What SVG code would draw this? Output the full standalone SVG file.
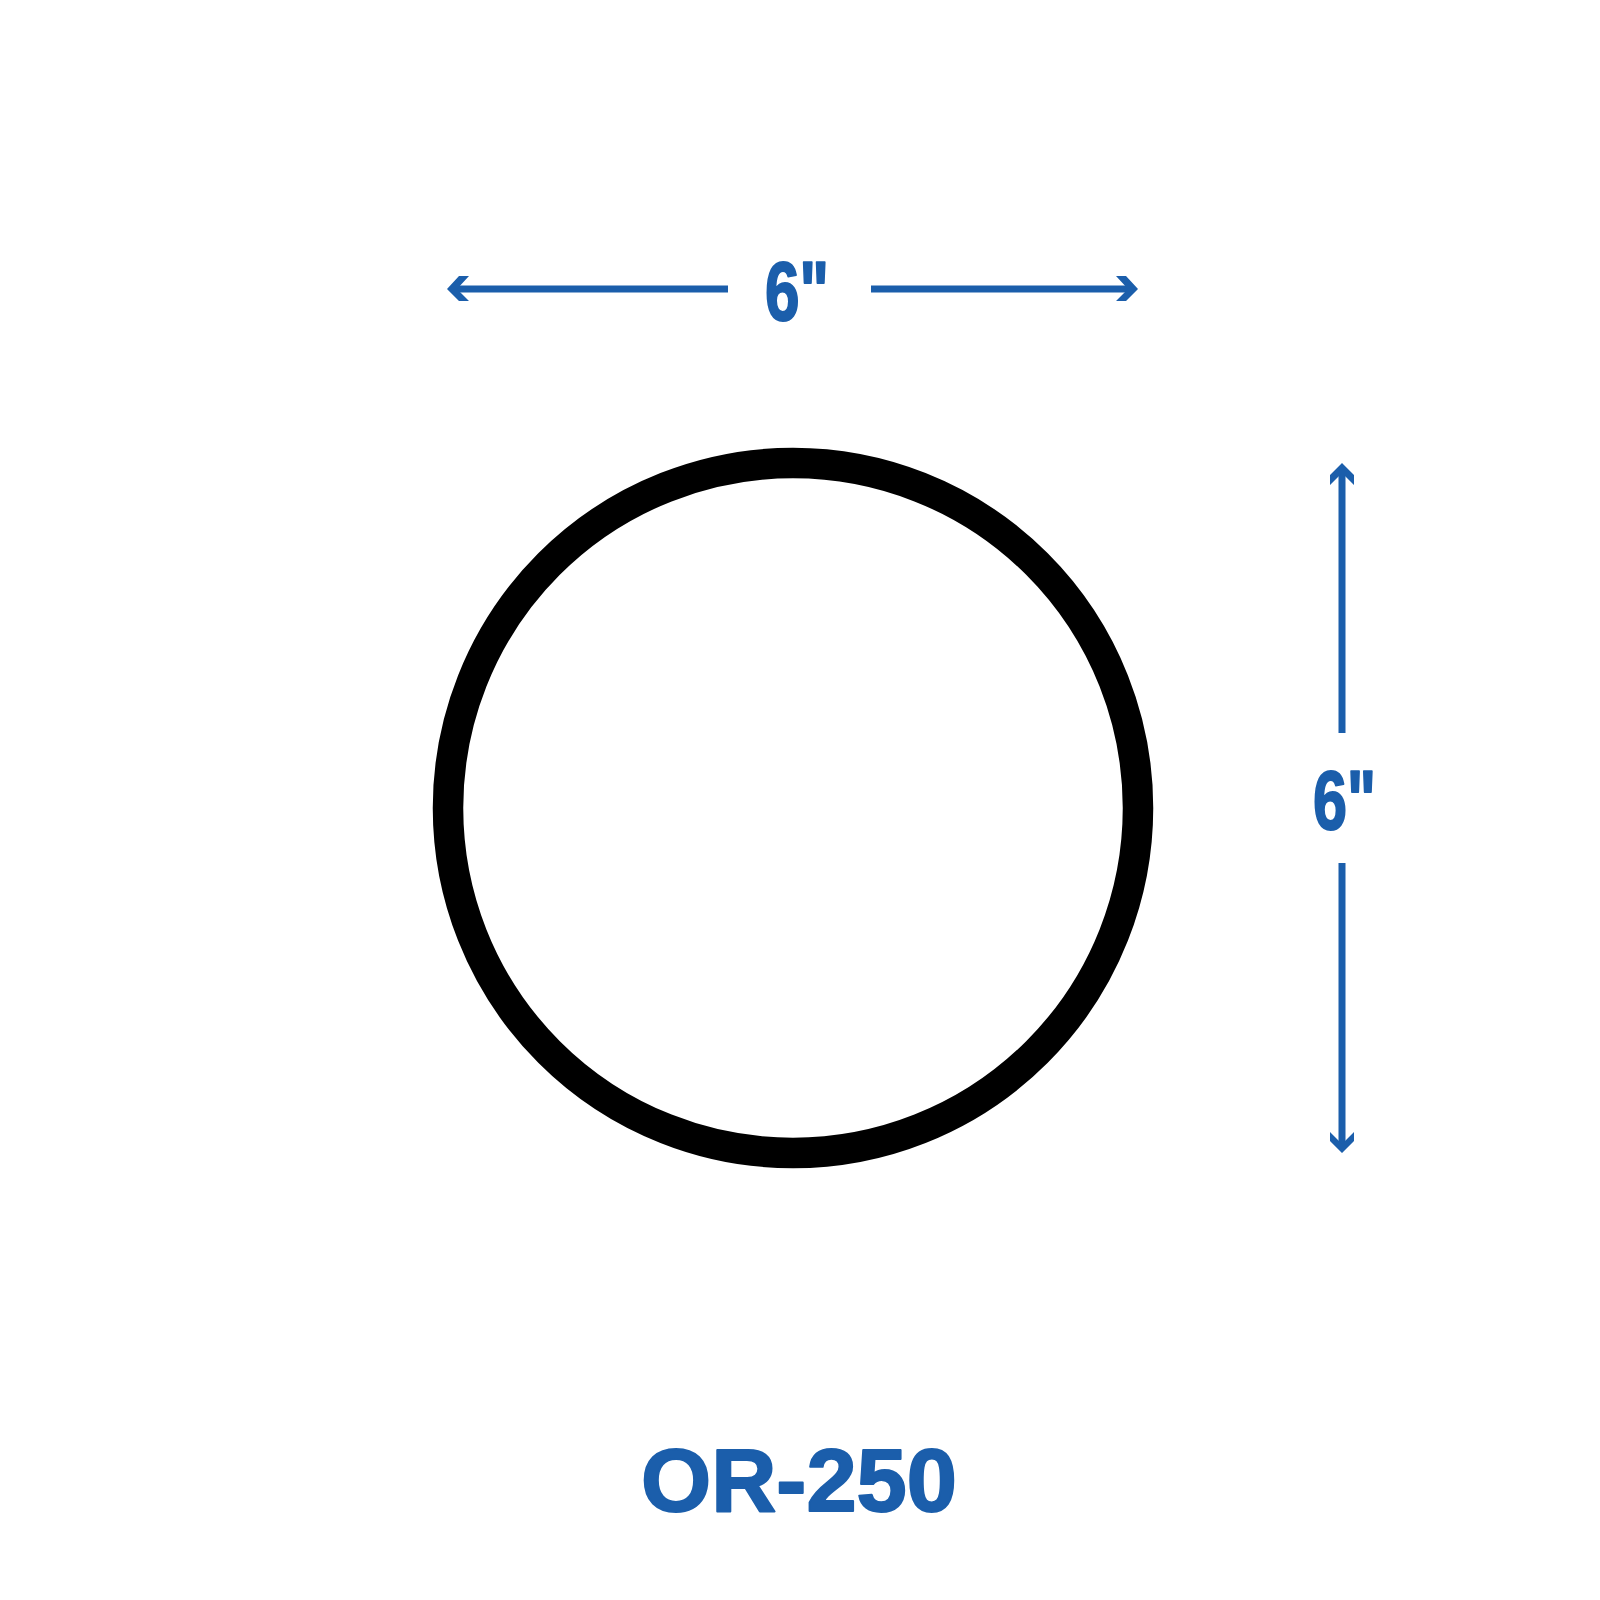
<svg xmlns="http://www.w3.org/2000/svg" width="1600" height="1600" viewBox="0 0 1600 1600">
<style>
.dim{stroke:#1b5eab;stroke-width:7;fill:none}
.head{fill:#1b5eab}
.lbl{font-family:"Liberation Sans",Arial,sans-serif;font-weight:bold;fill:#1b5eab;stroke:#1b5eab;stroke-width:2;stroke-linejoin:round}
</style>
<rect width="1600" height="1600" fill="#fff"/>
<g id="ring">
<circle cx="793" cy="808" r="345" fill="none" stroke="#000" stroke-width="30.5"/>
</g>
<g id="connectors">
<line class="dim" x1="455" y1="289" x2="728" y2="289"/>
<polygon class="head" points="447,289 459,276 469,276 457,289 469,301 459,301"/>
<line class="dim" x1="871" y1="289" x2="1130" y2="289"/>
<polygon class="head" points="1138,289 1126,276 1116,276 1128,289 1116,301 1126,301"/>
<line class="dim" x1="1342" y1="471" x2="1342" y2="733"/>
<polygon class="head" points="1342,463 1354,475 1354,485 1342,473 1330,485 1330,475"/>
<line class="dim" x1="1342" y1="863" x2="1342" y2="1145"/>
<polygon class="head" points="1342,1153 1354,1141 1354,1132 1342,1144 1330,1132 1330,1141"/>
</g>
<g id="label-width">
<text class="lbl" x="765" y="320" font-size="83" textLength="64" lengthAdjust="spacingAndGlyphs">6"</text>
</g>
<g id="label-height">
<text class="lbl" x="1313" y="829" font-size="83" textLength="63" lengthAdjust="spacingAndGlyphs">6"</text>
</g>
<g id="title">
<text class="lbl" x="641" y="1511" font-size="89" textLength="316" lengthAdjust="spacingAndGlyphs">OR-250</text>
</g>
</svg>
